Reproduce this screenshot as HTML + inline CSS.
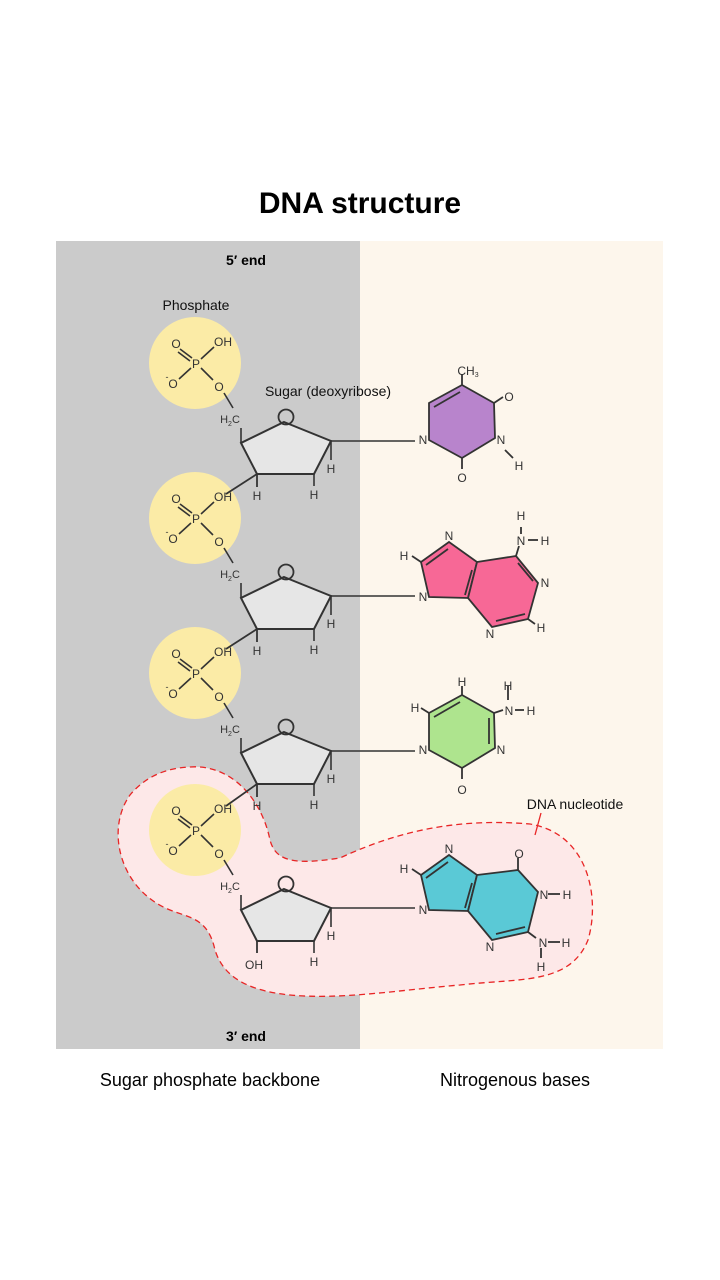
<!DOCTYPE html>
<html><head><meta charset="utf-8"><style>
body{margin:0;background:#fff;}
svg{display:block;font-family:"Liberation Sans",Arial,sans-serif;}
</style></head><body>
<svg width="720" height="1280" viewBox="0 0 720 1280" xmlns="http://www.w3.org/2000/svg">
<defs>
<g id="sug">
  <circle cx="195" cy="363" r="46" fill="#fbeba6"/>
  <g stroke="#333" stroke-width="1.6" fill="none">
    <line x1="180" y1="349" x2="192" y2="358"/><line x1="178" y1="352" x2="190" y2="361"/>
    <line x1="201" y1="359" x2="214" y2="347"/>
    <line x1="191" y1="368" x2="179" y2="379"/>
    <line x1="201" y1="368" x2="213" y2="380"/>
    <line x1="224" y1="393" x2="233" y2="408"/>
    <line x1="241" y1="443" x2="241" y2="428"/>
    <line x1="331" y1="441" x2="331" y2="460"/>
    <line x1="314" y1="474" x2="314" y2="486"/>
    <line x1="331" y1="441" x2="415" y2="441"/>
  </g>
  <polygon points="284,422 331,441 314,474 257,474 241,443" fill="#e6e6e6" stroke="#333" stroke-width="2"/>
  <circle cx="286" cy="417" r="7.5" fill="none" stroke="#333" stroke-width="1.8"/>
  <g font-size="12" fill="#333" text-anchor="middle">
    <text x="196" y="368">P</text>
    <text x="176" y="348">O</text>
    <text x="223" y="346">OH</text>
    <text x="173" y="388">O</text><text x="167" y="380" font-size="9">-</text>
    <text x="219" y="391">O</text>
    <text x="230" y="423" font-size="11">H<tspan font-size="7" dy="3">2</tspan><tspan dy="-3">C</tspan></text>
    <text x="331" y="473">H</text>
    <text x="314" y="499">H</text>
  </g>
</g>
</defs>
<text x="360" y="213" text-anchor="middle" font-size="30" font-weight="bold" fill="#000">DNA structure</text>
<rect x="56" y="241" width="304" height="808" fill="#cbcbcb"/>
<rect x="360" y="241" width="303" height="808" fill="#fdf6ec"/>
<text x="246" y="265" text-anchor="middle" font-size="14" font-weight="bold">5′ end</text>
<text x="246" y="1041" text-anchor="middle" font-size="14" font-weight="bold">3′ end</text>
<text x="210" y="1086" text-anchor="middle" font-size="18">Sugar phosphate backbone</text>
<text x="515" y="1086" text-anchor="middle" font-size="18">Nitrogenous bases</text>
<text x="196" y="310" text-anchor="middle" font-size="14" fill="#111">Phosphate</text>
<text x="328" y="396" text-anchor="middle" font-size="14" fill="#111">Sugar (deoxyribose)</text>

<path d="M190,767 C232,764 262,800 270,840 C276,864 300,864 340,858 C400,830 460,818 530,824 C590,834 600,900 588,940 C570,985 520,978 460,985 C400,990 340,1000 290,995 C240,990 222,972 215,950 C208,918 190,918 170,910 C120,890 105,830 130,795 C145,777 165,768 190,767 Z" fill="#fde8e8" stroke="#e82525" stroke-width="1.3" stroke-dasharray="6,4"/>
<line x1="535" y1="835" x2="541" y2="813" stroke="#e82525" stroke-width="1.3"/>
<text x="575" y="809" text-anchor="middle" font-size="14" fill="#111">DNA nucleotide</text>

<use href="#sug"/>
<use href="#sug" transform="translate(0,155)"/>
<use href="#sug" transform="translate(0,310)"/>
<use href="#sug" transform="translate(0,467)"/>
<g stroke="#333" stroke-width="1.8">
<line x1="257" y1="474" x2="226" y2="494"/><line x1="257" y1="474" x2="257" y2="487"/>
<line x1="257" y1="629" x2="226" y2="649"/><line x1="257" y1="629" x2="257" y2="642"/>
<line x1="257" y1="784" x2="226" y2="806"/><line x1="257" y1="784" x2="257" y2="797"/>
<line x1="257" y1="941" x2="257" y2="953"/>
</g>
<g font-size="12" fill="#333" text-anchor="middle">
<text x="257" y="500">H</text><text x="257" y="655">H</text><text x="257" y="810">H</text><text x="254" y="969">OH</text>
</g>

<!-- Thymine -->
<g stroke="#333" stroke-width="1.8">
<polygon points="429,403 462,385 494,403 495,438 462,458 429,440" fill="#b884cc"/>
<line x1="434" y1="407" x2="460" y2="392"/>
<line x1="462" y1="385" x2="462" y2="374"/>
<line x1="494" y1="403" x2="503" y2="397"/>
<line x1="462" y1="458" x2="462" y2="469"/>
<line x1="505" y1="450" x2="513" y2="458"/>
</g>
<g font-size="12" fill="#333" text-anchor="middle">
<text x="468" y="375">CH<tspan font-size="7" dy="2">3</tspan></text>
<text x="509" y="401">O</text><text x="423" y="444">N</text><text x="501" y="444">N</text>
<text x="519" y="470">H</text><text x="462" y="482">O</text>
</g>

<!-- Adenine -->
<g stroke="#333" stroke-width="1.8">
<polygon points="421,562 449,542 477,562 468,598 429,597" fill="#f76896"/>
<polygon points="477,562 516,556 538,583 528,619 492,627 468,598" fill="#f76896"/>
<line x1="426" y1="565" x2="448" y2="549"/>
<line x1="472" y1="570" x2="465" y2="595"/>
<line x1="518" y1="563" x2="533" y2="581"/>
<line x1="496" y1="621" x2="525" y2="614"/>
<line x1="421" y1="562" x2="412" y2="556"/>
<line x1="516" y1="556" x2="519" y2="546"/>
<line x1="521" y1="527" x2="521" y2="534"/>
<line x1="528" y1="540" x2="538" y2="540"/>
<line x1="528" y1="619" x2="535" y2="624"/>
</g>
<g font-size="12" fill="#333" text-anchor="middle">
<text x="449" y="540">N</text><text x="404" y="560">H</text><text x="423" y="601">N</text>
<text x="521" y="520">H</text><text x="521" y="545">N</text><text x="545" y="545">H</text>
<text x="545" y="587">N</text><text x="490" y="638">N</text><text x="541" y="632">H</text>
</g>

<!-- Cytosine -->
<g stroke="#333" stroke-width="1.8">
<polygon points="429,713 462,695 494,713 495,748 462,768 429,750" fill="#aee48e"/>
<line x1="434" y1="717" x2="460" y2="702"/>
<line x1="489" y1="718" x2="489" y2="744"/>
<line x1="462" y1="695" x2="462" y2="686"/>
<line x1="429" y1="713" x2="421" y2="708"/>
<line x1="494" y1="713" x2="503" y2="710"/>
<line x1="508" y1="686" x2="508" y2="700"/>
<line x1="515" y1="710" x2="524" y2="710"/>
<line x1="462" y1="768" x2="462" y2="779"/>
</g>
<g font-size="12" fill="#333" text-anchor="middle">
<text x="462" y="686">H</text><text x="415" y="712">H</text>
<text x="508" y="690">H</text><text x="509" y="715">N</text><text x="531" y="715">H</text>
<text x="423" y="754">N</text><text x="501" y="754">N</text><text x="462" y="794">O</text>
</g>

<!-- Guanine -->
<g stroke="#333" stroke-width="1.8">
<polygon points="421,875 449,855 477,875 468,911 429,910" fill="#5ac9d6"/>
<polygon points="477,875 518,870 538,892 528,932 492,940 468,911" fill="#5ac9d6"/>
<line x1="426" y1="878" x2="448" y2="862"/>
<line x1="472" y1="883" x2="465" y2="908"/>
<line x1="496" y1="934" x2="525" y2="927"/>
<line x1="421" y1="875" x2="412" y2="869"/>
<line x1="518" y1="870" x2="518" y2="858"/>
<line x1="548" y1="894" x2="560" y2="894"/>
<line x1="528" y1="932" x2="536" y2="938"/>
<line x1="548" y1="942" x2="560" y2="942"/>
<line x1="541" y1="948" x2="541" y2="958"/>
</g>
<g font-size="12" fill="#333" text-anchor="middle">
<text x="449" y="853">N</text><text x="404" y="873">H</text><text x="423" y="914">N</text>
<text x="519" y="858">O</text><text x="544" y="899">N</text><text x="567" y="899">H</text>
<text x="490" y="951">N</text><text x="543" y="947">N</text><text x="566" y="947">H</text><text x="541" y="971">H</text>
</g>
</svg>
</body></html>
